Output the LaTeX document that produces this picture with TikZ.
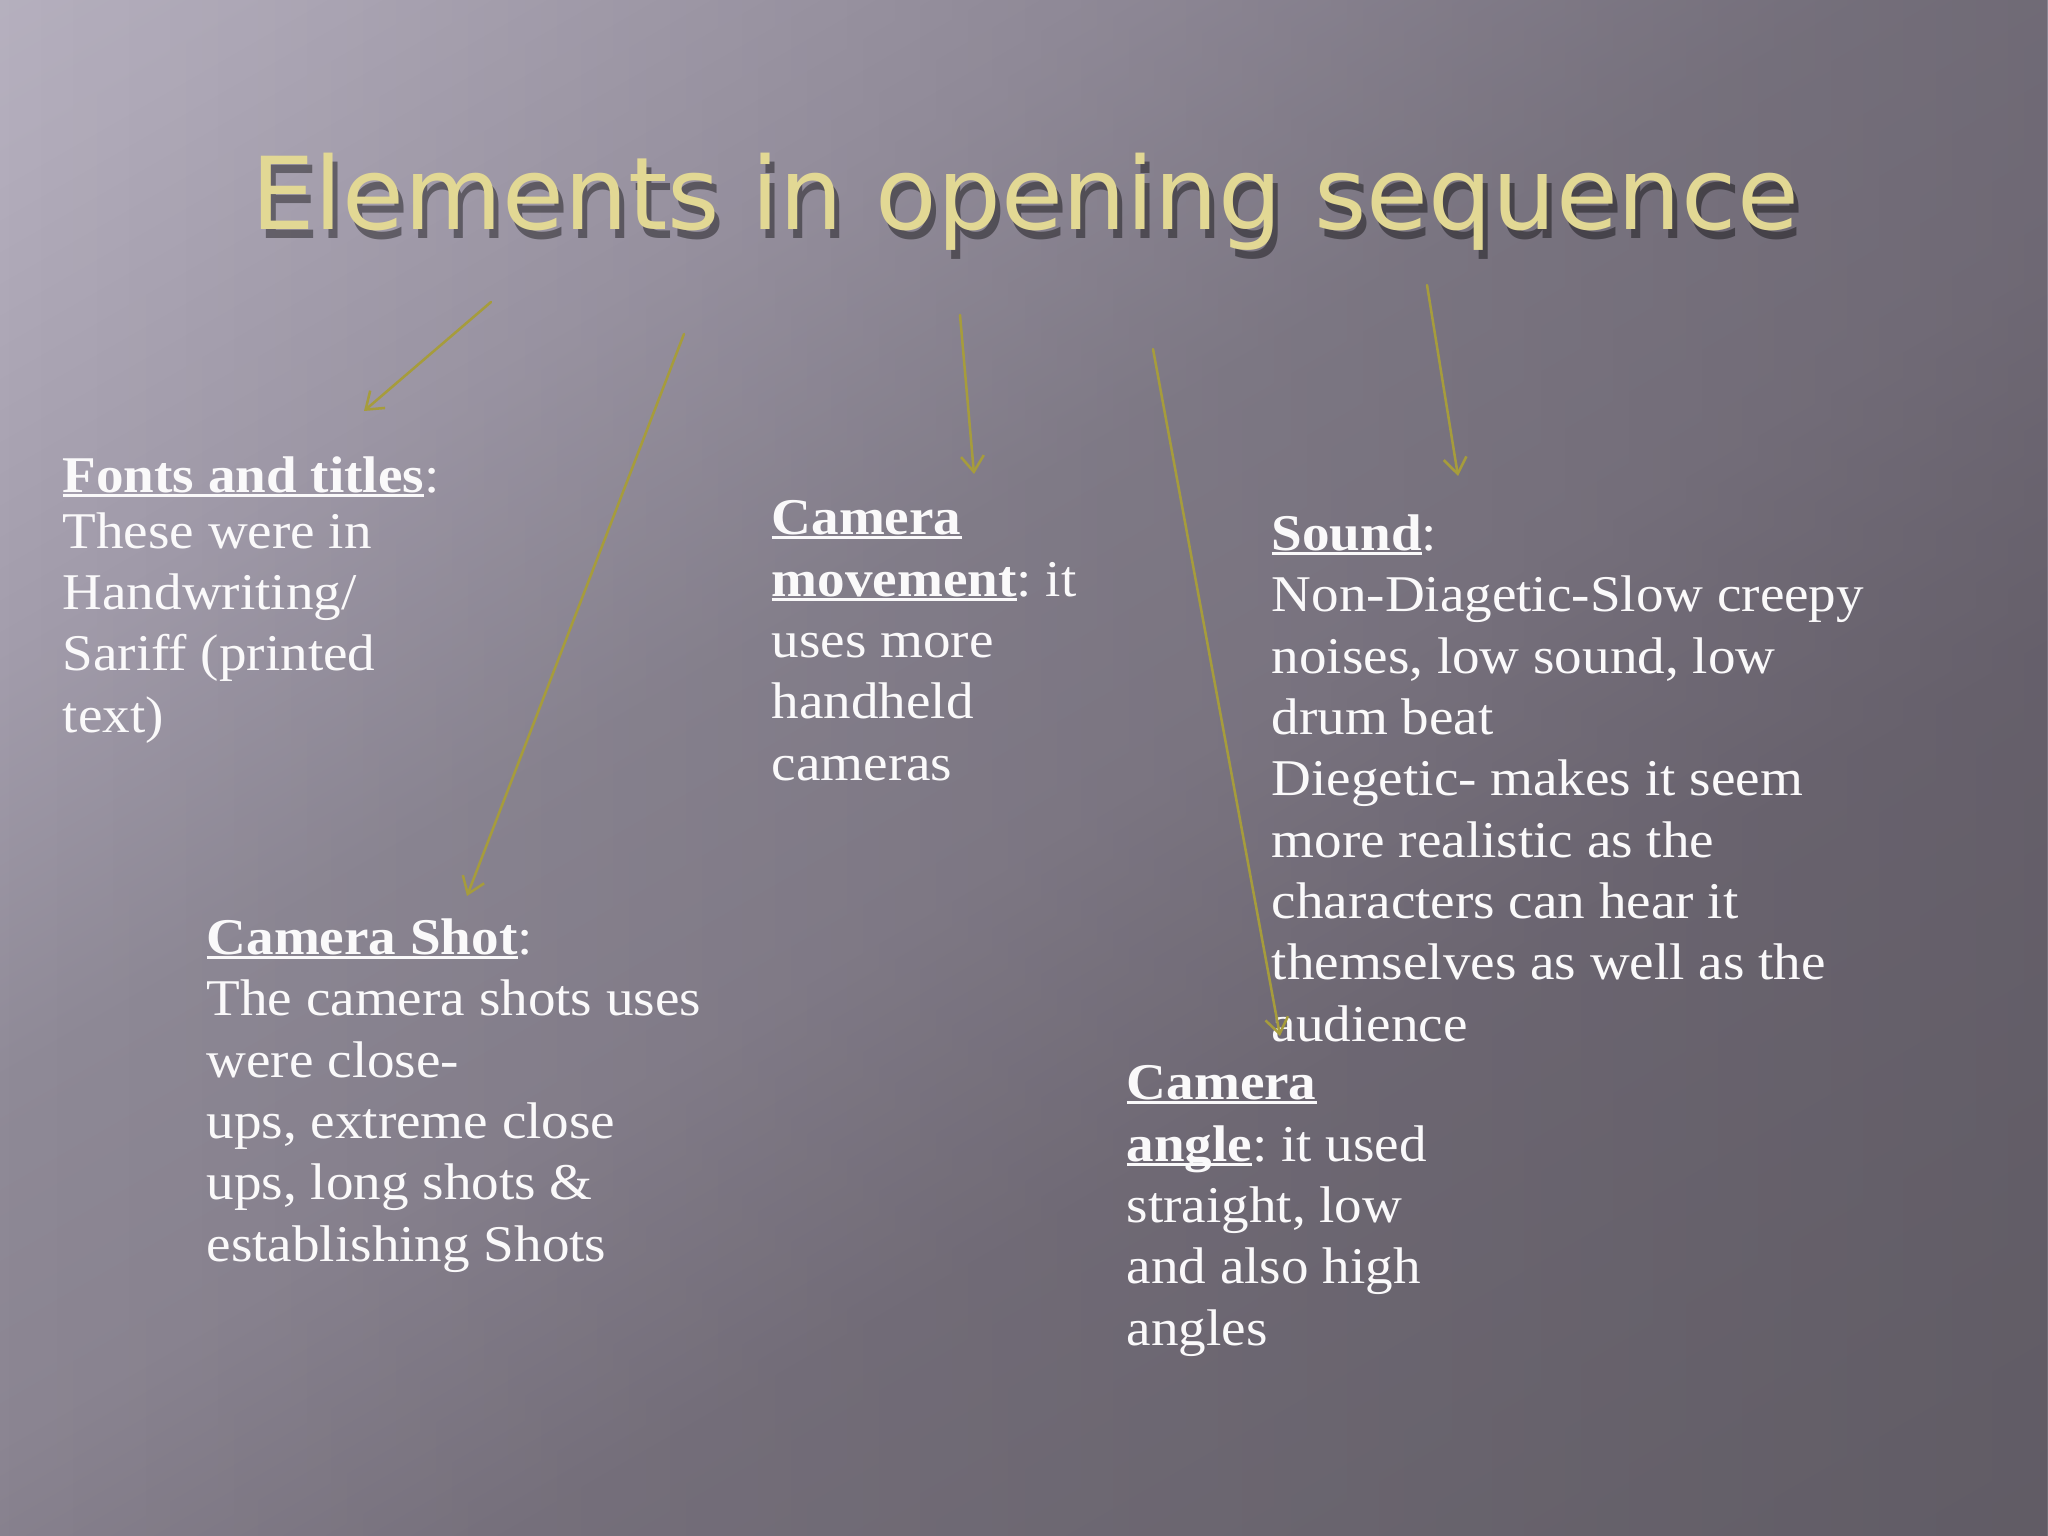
\documentclass[tikz,border=0pt]{standalone}
\usepackage{fontspec}
\setmainfont[FakeStretch=1.07]{Liberation Serif}
\newfontfamily\titlefont{DejaVu Sans}
\usetikzlibrary{arrows.meta,fadings}
\frenchspacing
\definecolor{bgA}{HTML}{C2BECA}
\definecolor{bgB}{HTML}{B2ACBB}
\definecolor{bgC}{HTML}{A39DAC}
\definecolor{bgD}{HTML}{8F8A97}
\definecolor{bgE}{HTML}{8B8592}
\definecolor{bgF}{HTML}{7B7581}
\definecolor{bgG}{HTML}{747079}
\definecolor{bgH}{HTML}{6C6872}
\definecolor{darkov}{HTML}{4C4650}
\definecolor{arrowc}{HTML}{A69C3C}
\definecolor{titlec}{HTML}{E2D894}
\definecolor{textc}{HTML}{FAF9FA}
\pgfdeclarehorizontalshading{bgshade}{100bp}{color(0bp)=(bgA); color(20bp)=(bgB); color(32bp)=(bgC); color(43bp)=(bgD); color(52bp)=(bgE); color(62bp)=(bgF); color(78bp)=(bgG); color(100bp)=(bgH)}
\tikzfading[name=faderight, left color=transparent!100, right color=transparent!0]
\newcommand\hdl[1]{\textbf{\setbox0\hbox{#1}\rlap{\rule[-1.3pt]{\wd0}{0.85pt}}\box0}}
\tikzset{
  body/.style={anchor=base west, align=left, inner sep=0pt, text=textc,
    font=\fontsize{14.65pt}{17.43pt}\selectfont},
  titlestyle/.style={font=\titlefont\fontsize{28.6pt}{34pt}\selectfont, anchor=base, inner sep=0pt},
  arr/.style={draw=arrowc, line width=0.72pt, line cap=round,
    -{Straight Barb[length=4.5pt,width=6.5pt,line width=0.72pt]}},
}
\begin{document}
\begin{tikzpicture}[x=0.01cm,y=-0.01cm]
\useasboundingbox (0,0) rectangle (2048,1536);
% background
\shade[shading=bgshade, shading angle=-60] (0,0) rectangle (2048,1536);
\fill[darkov, path fading=faderight, fill opacity=0.45] (0,0) rectangle (2048,1536);
% title with its shadow
\node (titleshadow) [titlestyle, text=black, opacity=0.4] at (1030,238) {Elements in opening sequence};
\node (title) [titlestyle, text=titlec] at (1025,229) {Elements in opening sequence};
% text blocks (anchored at the baseline of their last line)
\node (fonts) [body] at (62,732) {\hdl{Fonts and titles}:\\[-1.6pt]These were in\\Handwriting/\\Sariff (printed\\text)};
\node (move) [body] at (771,780) {\hdl{Camera}\\\hdl{movement}: it\\uses more\\handheld\\cameras};
\node (sound) [body] at (1271,1041) {\hdl{Sound}:\\Non-Diagetic-Slow creepy\\noises, low sound, low\\drum beat\\Diegetic- makes it seem\\more realistic as the\\characters can hear it\\themselves as well as the\\audience};
\node (shot) [body] at (206,1261) {\hdl{Camera Shot}:\\The camera shots uses\\were close-\\ups, extreme close\\ups, long shots \&\\establishing Shots};
\node (angle) [body] at (1126,1345) {\hdl{Camera}\\\hdl{angle}: it used\\straight, low\\and also high\\angles};
% arrow end points
\coordinate (s1) at (491,302); \coordinate (e1) at (364,411);
\coordinate (s2) at (684,334); \coordinate (e2) at (467,896);
\coordinate (s3) at (960,315); \coordinate (e3) at (974,474);
\coordinate (s4) at (1153,349); \coordinate (e4) at (1280,1036);
\coordinate (s5) at (1427,285); \coordinate (e5) at (1458,476);
\draw[arr] (s1) -- (e1);
\draw[arr] (s2) -- (e2);
\draw[arr] (s3) -- (e3);
\draw[arr] (s4) -- (e4);
\draw[arr] (s5) -- (e5);
\end{tikzpicture}
\end{document}
